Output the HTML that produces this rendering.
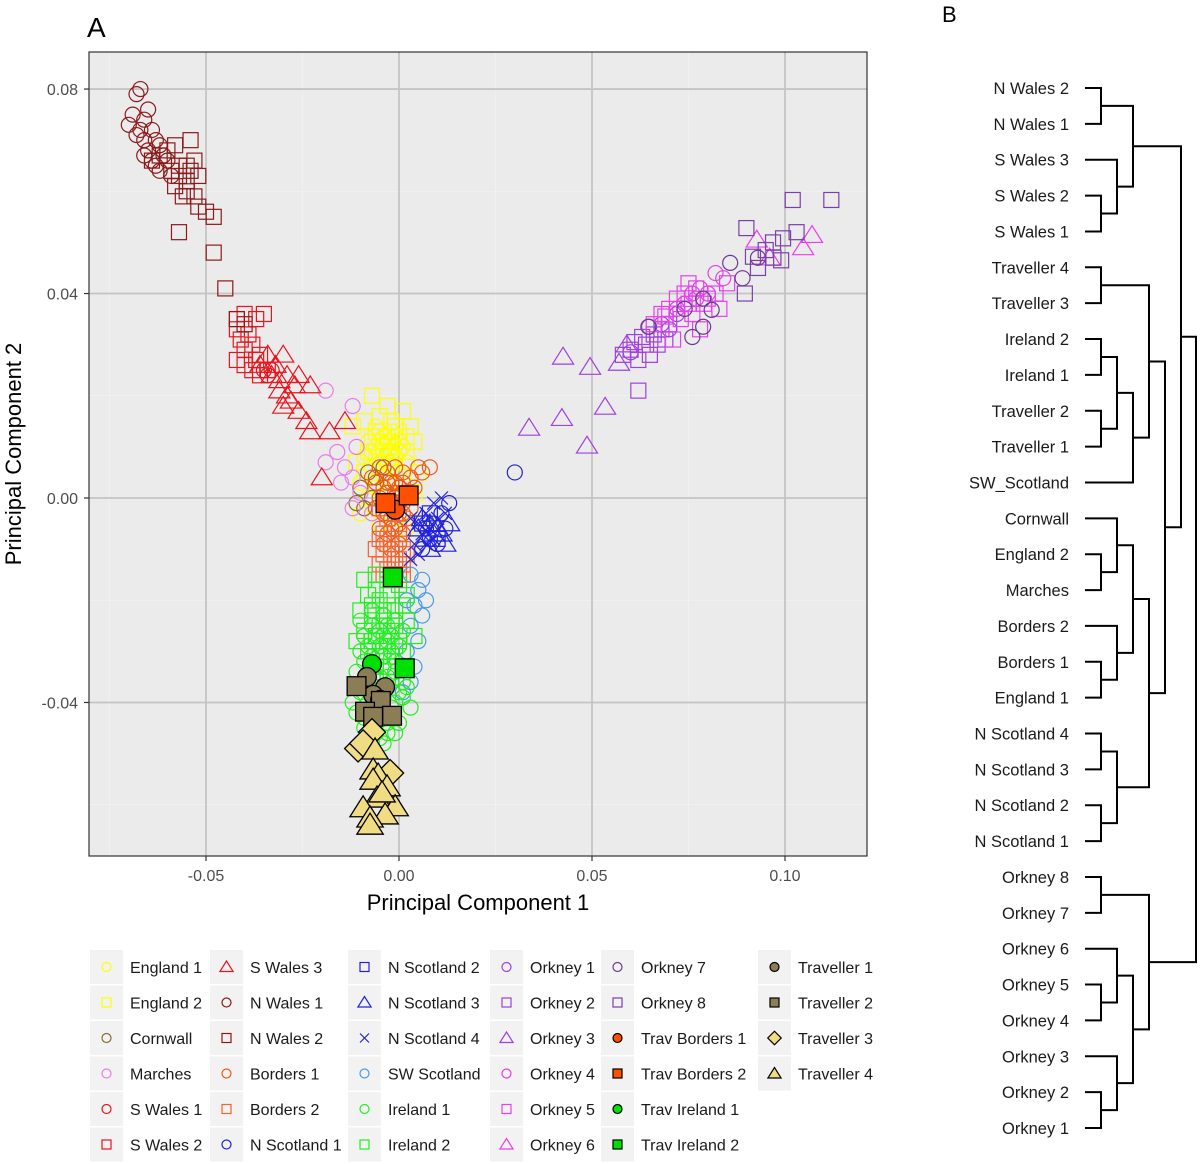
<!DOCTYPE html>
<html><head><meta charset="utf-8"><style>
html,body{margin:0;padding:0;background:#fff}
svg{display:block}
text{font-family:"Liberation Sans",Arial,sans-serif}
</style></head><body>
<svg id="fig" width="1200" height="1164" viewBox="0 0 1200 1164" xmlns="http://www.w3.org/2000/svg">
<text x="87" y="37" font-size="28" fill="#000">A</text>
<text x="942" y="22" font-size="22" fill="#000">B</text>
<rect x="89" y="52" width="778" height="804" fill="#ebebeb"/>
<g id="grid"></g>
<g id="points"></g>
<rect x="89" y="52" width="778" height="804" fill="none" stroke="#333" stroke-width="1.2"/>
<g id="axes"></g>
<text x="478" y="910" font-size="22" text-anchor="middle" fill="#000">Principal Component 1</text>
<text transform="translate(21,454) rotate(-90)" font-size="22" text-anchor="middle" fill="#000">Principal Component 2</text>
<g id="legend"></g>
<g id="dendro"></g>
</svg>
<script>
// ---- chart data (values in thousandths of PC units) ----
const xTicks=[-0.05,0,0.05,0.10];
const xTickLabels=["-0.05","0.00","0.05","0.10"];
const yTicks=[0.08,0.04,0,-0.04];
const yTickLabels=["0.08","0.04","0.00","-0.04"];
const nWales1=[[-68,79],[-67,80],[-69,75],[-70,73],[-67,72],[-66,74],[-65,76],[-66,70],[-68,71],[-64,72],[-63,70],[-65,68],[-62,69],[-64,66],[-66,67],[-61,67],[-63,65],[-60,66],[-62,64],[-59,63]];
const nWales2=[[-64,66],[-62,67],[-60,68],[-58,69],[-54,70],[-57,65],[-55,65],[-53,66],[-54,64],[-52,63],[-55,62],[-57,63],[-59,64],[-53,59],[-55,60],[-58,61],[-56,59],[-52,57],[-50,56],[-48,55],[-57,52],[-48,48],[-45,41],[-42,35],[-40,34]];
const sWales2=[[-42,35],[-40,36],[-42,33],[-41,31],[-39,32],[-37,35],[-35,36],[-38,30],[-40,29],[-42,27],[-36,28],[-38,25],[-36,24],[-34,25],[-40,26],[-37,27]];
const sWales3=[[-36,26],[-34,28],[-32,26],[-30,28],[-33,24],[-31,23],[-29,24],[-31,21],[-29,20],[-27,22],[-30,18],[-28,19],[-26,24],[-23,22],[-24,15],[-23,13],[-18,13],[-14,15],[-20,4],[-26,17]];
const sWales1=[[-35,25],[-34,24],[-33,25]];
const marches=[[-19,21],[-12,18],[-19,7],[-16,9],[-14,6],[-12,4],[-15,3],[-11,10],[-10,1],[-12,-2],[-7,-3]];
const england2=[[-7,20],[-3,18],[1,17],[3,14],[-5,16],[-2,15],[-9,15],[-12,14],[0,13],[4,11],[-7,12],[-4,10],[2,9],[-1,7],[5,5],[-3,3],[4,1],[-9,5],[-11,7],[0,-4],[-6,13],[-3,12],[-1,14],[2,12],[-8,9],[-5,8]];
const england1=[[-6,14],[-4,12],[-2,13],[0,11],[-8,11],[-6,10],[-3,9],[-1,8],[1,10],[-5,7],[-7,6],[-2,6],[0,5],[2,7],[-9,8],[-4,4],[-10,3],[-6,2],[1,3],[3,4],[-8,0],[-10,-3],[-5,-5],[2,-6],[-5,11],[-3,11],[-1,10],[-4,9],[-2,9],[-6,8],[-3,7],[-1,12],[-5,13],[-2,11],[0,9],[-7,9]];
const cornwall=[[-8,5],[-10,2],[-9,-2],[-7,0],[-6,4],[-4,6],[-3,3],[-11,-1]];
const borders2=[[-5,-8],[-3,-9],[-1,-10],[1,-10],[-4,-11],[-2,-12],[0,-12],[2,-11],[-5,-13],[-3,-14],[-1,-14],[1,-13],[-6,-10],[-4,-15],[-2,-16],[0,-15],[-3,-4],[-1,-3],[-5,-2],[0,-6],[-2,-8],[0,-8],[-4,-7],[-1,-12],[1,-15]];
const borders1=[[-5,6],[-3,5],[-1,6],[1,5],[3,4],[5,6],[-6,3],[-4,2],[-2,3],[0,2],[2,1],[4,2],[-5,0],[-3,-1],[-1,0],[1,-1],[3,-2],[-4,-3],[-2,-4],[0,-3],[2,-4],[-5,-6],[-3,-7],[-1,-6],[1,-7],[-4,-9],[-2,-10],[0,-9],[8,6],[6,5],[-7,4],[-6,-2],[-3,1],[-1,1],[1,1],[-2,-1],[0,-1],[-3,-3],[-1,-2],[1,-3],[-2,-6],[0,-5],[-1,3],[1,3],[-3,3]];
const swScotland=[[3,-15],[5,-18],[4,-21],[6,-23],[3,-25],[5,-28],[2,-30],[4,-33],[7,-20],[6,-16],[2,-20],[3,-36],[1,-38]];
const ireland2=[[-9,-16],[-6,-15],[-3,-16],[0,-17],[2,-19],[-8,-19],[-5,-20],[-2,-21],[1,-21],[-10,-22],[-7,-23],[-4,-24],[-1,-25],[2,-24],[-9,-26],[-6,-27],[-3,-28],[0,-28],[-8,-30],[-5,-31],[-2,-31],[1,-30],[4,-27],[-11,-28],[-6,-18],[-3,-19],[-7,-21],[-4,-22],[-1,-22],[-5,-25],[-2,-26],[-7,-28],[-4,-29],[-1,-29],[-6,-33],[-3,-33]];
const ireland1=[[-10,-24],[-7,-22],[-4,-23],[-1,-24],[1,-26],[-9,-27],[-6,-27],[-3,-28],[0,-29],[-10,-30],[-7,-31],[-4,-31],[-1,-32],[2,-33],[-11,-34],[-8,-35],[-5,-35],[-2,-36],[1,-36],[-10,-38],[-7,-39],[-4,-39],[-1,-40],[1,-39],[-11,-42],[-8,-42],[-5,-43],[-2,-43],[0,-44],[-9,-45],[-6,-46],[-3,-46],[-7,-48],[-4,-48],[-12,-40],[3,-41],[2,-37],[-3,-25],[-6,-33],[-9,-32],[-5,-26],[-2,-27],[-8,-29],[-5,-29],[-2,-30],[-7,-33],[-4,-33],[-1,-34],[-6,-35],[-3,-35],[-9,-36],[-6,-37],[-3,-37],[-8,-40],[-5,-41],[-2,-41],[-9,-43],[-6,-44],[-3,-44],[-1,-46],[-5,-47],[-8,-47],[0,-38],[-4,-27],[-7,-25]];
const nScotland4=[[3,-4],[5,-5],[7,-3],[9,-1],[11,0],[6,-7],[8,-6],[10,-4],[4,-9],[7,-9],[9,-8],[12,-3],[3,-12],[5,-11]];
const nScotland3=[[6,-4],[8,-5],[10,-6],[7,-8],[9,-7],[11,-7],[13,-5],[5,-6],[12,-9],[8,-10]];
const nScotland2=[[6,-5],[8,-3],[10,-8]];
const nScotland1=[[7,-6],[9,-5],[11,-3],[13,-1],[8,-8],[10,-9],[6,-10],[30,5],[12,-6]];
const orkney3=[[42.5,27.6],[49.5,25.6],[33.7,13.7],[42.2,15.6],[53.4,17.8],[48.7,10.2],[57,26.4],[59,30]];
const orkney2=[[62,21],[58,28],[60,29],[62,27],[64,30],[63,31.5],[66,32],[65,28],[68,33],[67,30],[70,34],[61,30.5],[69,31]];
const orkney1=[[60,28.5],[64.8,33.5],[68,34],[72,36],[70,33]];
const orkney5=[[66,34],[68,36],[70,37],[72,39],[74,40],[73,35],[75,38],[77,41],[76,36],[79,38],[80,39],[82,40],[83,37],[78,33],[71,31],[85,42],[75,42],[69,35.5]];
const orkney4=[[72,37],[74,38],[76,40],[78,41],[80,40],[82,44],[84,43],[77,39]];
const orkney6=[[107,51.4],[104.7,49],[92.7,50.5],[96,47]];
const orkney7=[[85.8,46],[89,43],[93,47],[78.8,39],[74,37],[78.8,33.5],[81,36.8],[64.6,33.5],[76,31.5]];
const orkney8=[[102,58.3],[112,58.3],[90,52.8],[103,52],[96.9,50],[99.5,50.8],[99,46.5],[91.7,47.2],[89.6,40],[95,48.5],[93,45],[97,47]];
const travBorders2=[[-3.5,-1],[2.5,0.5]];
const travBorders1=[[-1,-2.3]];
const travIreland2=[[-1.6,-15.5],[1.5,-33.3]];
const travIreland1=[[-7,-32.5]];
const traveller1=[[-8.3,-35],[-3.6,-37],[-6.7,-38.5],[-4.9,-39.5]];
const traveller2=[[-11,-36.8],[-4.7,-39.7],[-8.8,-41.8],[-1.8,-42.6],[-6.7,-42.8]];
const traveller3=[[-7,-45.8],[-10.6,-49],[-9.3,-48],[-2.3,-53.8]];
const traveller4=[[-6.2,-49.3],[-6.7,-53.2],[-5.4,-54.2],[-3.1,-56.5],[-6.7,-55.2],[-5.7,-58.7],[-9.3,-60.6],[-1,-60.4],[-3.6,-62],[-7.5,-62.6],[-7.5,-64],[-4.4,-57.7]];
const leaves=["N Wales 2","N Wales 1","S Wales 3","S Wales 2","S Wales 1","Traveller 4","Traveller 3","Ireland 2","Ireland 1","Traveller 2","Traveller 1","SW_Scotland","Cornwall","England 2","Marches","Borders 2","Borders 1","England 1","N Scotland 4","N Scotland 3","N Scotland 2","N Scotland 1","Orkney 8","Orkney 7","Orkney 6","Orkney 5","Orkney 4","Orkney 3","Orkney 2","Orkney 1"];
// merges: [left, right, height]; leaves are numbers, internal nodes are "nK"
const merges=[[0,1,1],[3,4,1],[2,"n1",2],["n0","n2",3],[5,6,1],[7,8,1],[9,10,1],["n5","n6",2],["n7",11,3],["n4","n8",4],[13,14,1],[12,"n10",2],[16,17,1],[15,"n12",2],["n11","n13",3],[18,19,1],[20,21,1],["n15","n16",2],["n14","n17",4],["n9","n18",5],["n3","n19",6],[22,23,1],[25,26,1],[24,"n22",2],[28,29,1],[27,"n24",2],["n23","n25",3],["n21","n26",4],["n20","n27",7]];

// ---- styles ----
const styles=[
 ["England 1",england1,"circle","#ffff00",null],
 ["England 2",england2,"square","#ffff00",null],
 ["Cornwall",cornwall,"circle","#8b6a2a",null],
 ["Marches",marches,"circle","#e77ee7",null],
 ["S Wales 1",sWales1,"circle","#e8141c",null],
 ["S Wales 2",sWales2,"square","#e8141c",null],
 ["S Wales 3",sWales3,"triangle","#e8141c",null],
 ["N Wales 1",nWales1,"circle","#8b1a1a",null],
 ["N Wales 2",nWales2,"square","#8b1a1a",null],
 ["Borders 1",borders1,"circle","#ee5a16",null],
 ["Borders 2",borders2,"square","#f26430",null],
 ["N Scotland 1",nScotland1,"circle","#2222cc",null],
 ["N Scotland 2",nScotland2,"square","#2222dd",null],
 ["N Scotland 3",nScotland3,"triangle","#2222dd",null],
 ["N Scotland 4",nScotland4,"cross","#2222dd",null],
 ["SW Scotland",swScotland,"circle","#4a9ae6",null],
 ["Ireland 1",ireland1,"circle","#22ee22",null],
 ["Ireland 2",ireland2,"square","#22ee22",null],
 ["Orkney 1",orkney1,"circle","#a040e0",null],
 ["Orkney 2",orkney2,"square","#a040e0",null],
 ["Orkney 3",orkney3,"triangle","#a040e0",null],
 ["Orkney 4",orkney4,"circle","#e040e8",null],
 ["Orkney 5",orkney5,"square","#e840ee",null],
 ["Orkney 6",orkney6,"triangle","#e840ee",null],
 ["Orkney 7",orkney7,"circle","#6a3a90",null],
 ["Orkney 8",orkney8,"square","#7a40a8",null],
 ["Trav Borders 1",travBorders1,"circle","#000","#ff4f00"],
 ["Trav Borders 2",travBorders2,"square","#000","#ff4f00"],
 ["Trav Ireland 1",travIreland1,"circle","#000","#00e000"],
 ["Trav Ireland 2",travIreland2,"square","#000","#00e000"],
 ["Traveller 1",traveller1,"circle","#000","#8b7d55"],
 ["Traveller 2",traveller2,"square","#000","#8b7d55"],
 ["Traveller 3",traveller3,"diamond","#000","#f0dc82"],
 ["Traveller 4",traveller4,"triangle","#000","#f0dc82"]
];
const NS="http://www.w3.org/2000/svg";
const X=v=>399+v*3860, Y=v=>498-v*5112;
function mk(tag,attrs,parent){const e=document.createElementNS(NS,tag);for(const k in attrs)e.setAttribute(k,attrs[k]);parent.appendChild(e);return e;}
function shape(parent,type,cx,cy,s,stroke,fill,sw){
 let e;
 if(type==="circle")e=mk("circle",{cx:cx,cy:cy,r:s},parent);
 else if(type==="square")e=mk("rect",{x:cx-s,y:cy-s,width:2*s,height:2*s},parent);
 else if(type==="triangle"){const h=s*1.2;e=mk("polygon",{points:`${cx},${cy-h} ${cx-h*1.1},${cy+h*0.75} ${cx+h*1.1},${cy+h*0.75}`},parent);}
 else if(type==="diamond"){const h=s*1.35;e=mk("polygon",{points:`${cx},${cy-h} ${cx+h},${cy} ${cx},${cy+h} ${cx-h},${cy}`},parent);}
 else {e=mk("path",{d:`M${cx-s} ${cy-s}L${cx+s} ${cy+s}M${cx-s} ${cy+s}L${cx+s} ${cy-s}`},parent);}
 e.setAttribute("stroke",stroke);e.setAttribute("fill",fill||"none");e.setAttribute("stroke-width",sw);
 return e;
}
// grid
const grid=document.getElementById("grid");
[-0.075,-0.025,0.025,0.075].forEach(v=>{const l=mk("line",{x1:X(v),x2:X(v),y1:52,y2:856,stroke:"#f4f4f4","stroke-width":0.6},grid);});
[0.06,0.02,-0.02,-0.06].forEach(v=>{const l=mk("line",{y1:Y(v),y2:Y(v),x1:89,x2:867,stroke:"#f4f4f4","stroke-width":0.6},grid);});
xTicks.forEach(v=>{const l=mk("line",{x1:X(v),x2:X(v),y1:52,y2:856,stroke:"#c4c4c4","stroke-width":1.8},grid);});
yTicks.forEach(v=>{const l=mk("line",{y1:Y(v),y2:Y(v),x1:89,x2:867,stroke:"#c4c4c4","stroke-width":1.8},grid);});
// axes
const axes=document.getElementById("axes");
xTicks.forEach((v,i)=>{mk("line",{x1:X(v),x2:X(v),y1:856,y2:861,stroke:"#333","stroke-width":1.2},axes);
 const t=mk("text",{x:X(v),y:881,"font-size":16,"text-anchor":"middle",fill:"#4d4d4d"},axes);t.textContent=xTickLabels[i];
 });
yTicks.forEach((v,i)=>{mk("line",{x1:84,x2:89,y1:Y(v),y2:Y(v),stroke:"#333","stroke-width":1.2},axes);
 const t=mk("text",{x:78,y:Y(v)+6,"font-size":16,"text-anchor":"end",fill:"#4d4d4d"},axes);t.textContent=yTickLabels[i];
 });
// points
const pts=document.getElementById("points");
const sizes={circle:7.5,square:7.5,triangle:8,cross:6.5,diamond:8};
styles.forEach(st=>{
 const [name,data,type,stroke,fill]=st;
 const g=mk("g",{},pts);
 
 
 const big=fill?1.25:1;
 data.forEach(p=>{
  const e=shape(g,type,X(p[0]/1000),Y(p[1]/1000),sizes[type]*big,stroke,fill,fill?1.3:1.2);
  
  
 });
});
// legend
const leg=document.getElementById("legend");
const colX=[90,210,348,490,601,758];
styles.forEach((st,i)=>{
 const c=Math.floor(i/6), r=i%6;
 const bx=colX[c], by=950+r*35.5;
 const g=mk("g",{},leg);
 
 
 mk("rect",{x:bx,y:by,width:33,height:34,fill:"#f2f2f2"},g);
 const s={circle:4.5,square:4.5,triangle:5,cross:4.5,diamond:5}[st[2]];
 shape(g,st[2],bx+16.5,by+17,s,st[3],st[4],1.2);
 const t=mk("text",{x:bx+40,y:by+23,"font-size":16,fill:"#1a1a1a"},g);t.textContent=st[0];
});
// dendrogram
const dg=document.getElementById("dendro");
const leafY=i=>88+i*(1040/29);
const hx=[1085,1101,1117,1133,1149,1165,1181,1196];
const nodes=[];
function pos(k){return typeof k==="number"?{x:hx[0],y:leafY(k)}:nodes[+k.slice(1)];}
leaves.forEach((n,i)=>{const t=mk("text",{x:1069,y:leafY(i)+6,"font-size":16.5,"text-anchor":"end",fill:"#1a1a1a"},dg);t.textContent=n;
 });
merges.forEach(m=>{
 const a=pos(m[0]),b=pos(m[1]),x=hx[m[2]];
 const p=mk("path",{d:`M${a.x} ${a.y}H${x}V${b.y}H${b.x}`,fill:"none",stroke:"#000","stroke-width":2},dg);
 
 nodes.push({x:x,y:(a.y+b.y)/2});
});
</script>
</body></html>
